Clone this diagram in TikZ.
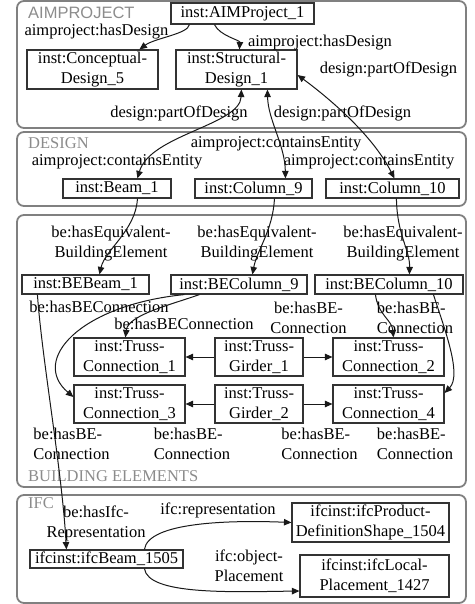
\documentclass[tikz,border=0pt]{standalone}
\usepackage{fontspec}
\setmainfont{Liberation Serif}
\newfontfamily\titlesans{Liberation Sans}
\usetikzlibrary{arrows.meta}
\begin{document}
\begin{tikzpicture}[x=1pt,y=-1pt,
  every node/.style={font=\fontsize{16.5}{20}\selectfont, inner sep=0pt},
  box/.style={draw=black!80, line width=1.15pt, align=center},
  lbl/.style={align=center},
  lbll/.style={align=left},
  panel/.style={draw=black!50, line width=1.8pt, rounded corners=7pt},
  ptitle/.style={text=black!45, anchor=base west},
  tip/.tip={Triangle[length=7.5pt,width=6.5pt]},
  arr/.style={draw=black!90, line width=1pt, -tip},
  darr/.style={draw=black!90, line width=1pt, tip-tip}
]
\useasboundingbox (0,0) rectangle (474,604);

% panels
\draw[panel] (17,1) rectangle (466,128);
\draw[panel] (17,132) rectangle (466,206);
\draw[panel] (17,215) rectangle (466,487);
\draw[panel] (17,495) rectangle (466,603);

\node[ptitle, font=\titlesans\fontsize{16.5}{20}\selectfont] (tA) at (28,18.3) {AIMPROJECT};
\node[ptitle] (tD) at (28,149) {DESIGN};
\node[ptitle] (tB) at (28,481.5) {BUILDING ELEMENTS};
\node[ptitle] (tI) at (28,508) {IFC};

% AIMPROJECT nodes
\node[box, minimum width=143pt, minimum height=21pt] (aim) at (242.5,13.5) {inst:AIMProject\_1};
\node[box, minimum width=131pt, minimum height=39pt] (concept) at (92.5,69.5) {inst:Conceptual-\\Design\_5};
\node[box, minimum width=121pt, minimum height=39pt] (struct) at (236.5,69.5) {inst:Structural-\\Design\_1};

% DESIGN nodes
\node[box, minimum width=108pt, minimum height=19pt] (beam) at (117,188.5) {inst:Beam\_1};
\node[box, minimum width=117pt, minimum height=19pt] (col9) at (253.5,188.5) {inst:Column\_9};
\node[box, minimum width=133pt, minimum height=19pt] (col10) at (392.5,188.5) {inst:Column\_10};

% BUILDING ELEMENTS nodes
\node[box, minimum width=127pt, minimum height=19pt] (bebeam) at (85.5,284.5) {inst:BEBeam\_1};
\node[box, minimum width=136pt, minimum height=19pt] (becol9) at (239,284.5) {inst:BEColumn\_9};
\node[box, minimum width=148pt, minimum height=19pt] (becol10) at (389,284.5) {inst:BEColumn\_10};
\node[box, minimum width=111pt, minimum height=38pt] (tc1) at (129.5,357) {inst:Truss-\\Connection\_1};
\node[box, minimum width=88pt, minimum height=38pt] (tg1) at (259,357) {inst:Truss-\\Girder\_1};
\node[box, minimum width=111pt, minimum height=38pt] (tc2) at (388.5,357) {inst:Truss-\\Connection\_2};
\node[box, minimum width=111pt, minimum height=38pt] (tc3) at (129.5,404) {inst:Truss-\\Connection\_3};
\node[box, minimum width=88pt, minimum height=38pt] (tg2) at (259,404) {inst:Truss-\\Girder\_2};
\node[box, minimum width=111pt, minimum height=38pt] (tc4) at (388.5,404) {inst:Truss-\\Connection\_4};

% IFC nodes
\node[box, minimum width=153pt, minimum height=18pt] (ifcbeam) at (106.5,559) {ifcinst:ifcBeam\_1505};
\node[box, minimum width=157pt, minimum height=39pt] (pds) at (370.5,522.5) {ifcinst:ifcProduct-\\DefinitionShape\_1504};
\node[box, minimum width=149pt, minimum height=42pt] (lp) at (374.5,576) {ifcinst:ifcLocal-\\Placement\_1427};

% labels
\node[lbl] (l1) at (96.5,32) {aimproject:hasDesign};
\node[lbl] (l2) at (320,42.5) {aimproject:hasDesign};
\node[lbl] (l3) at (388.5,69) {design:partOfDesign};
\node[lbl] (l4) at (179,113.5) {design:partOfDesign};
\node[lbl] (l5) at (342.5,113.5) {design:partOfDesign};
\node[lbl] (l6) at (276,144) {aimproject:containsEntity};
\node[lbl] (l7) at (117,161.7) {aimproject:containsEntity};
\node[lbl] (l8) at (369,161.7) {aimproject:containsEntity};
\node[lbl] (l9) at (111,243.3) {be:hasEquivalent-\\BuildingElement};
\node[lbl] (l10) at (257,243.3) {be:hasEquivalent-\\BuildingElement};
\node[lbl] (l11) at (403,243.3) {be:hasEquivalent-\\BuildingElement};
\node[lbl] (l12) at (99,306.7) {be:hasBEConnection};
\node[lbl] (l13) at (184,324) {be:hasBEConnection};
\node[lbl] (l14) at (308.5,317.5) {be:hasBE-\\Connection};
\node[lbll] (l15) at (415,317.5) {be:hasBE-\\Connection};
\node[lbll] (l16) at (71.5,444) {be:hasBE-\\Connection};
\node[lbll] (l17) at (192,444) {be:hasBE-\\Connection};
\node[lbll] (l18) at (319.5,444) {be:hasBE-\\Connection};
\node[lbll] (l19) at (415,444) {be:hasBE-\\Connection};
\node[lbl] (l20) at (96,523.3) {be:hasIfc-\\Representation};
\node[lbl] (l21) at (218,510) {ifc:representation};
\node[lbl] (l22) at (249,566) {ifc:object-\\Placement};

% connectors
\draw[arr] ([xshift=19pt]aim.south west) .. controls (188,34) and (155,38) .. ([xshift=113pt]concept.north west);
\draw[arr] ([xshift=44pt]aim.south west) .. controls (220,36) and (240,40) .. ([xshift=64pt]struct.north west);
\draw[darr] ([xshift=66pt]struct.south west) .. controls (240,125) and (150,135) .. ([xshift=75pt]beam.north west);
\draw[darr] ([xshift=92pt]struct.south west) .. controls (268,120) and (285,145) .. ([xshift=91pt]col9.north west);
\draw[darr] ([yshift=-5.5pt]struct.east) .. controls (318,90) and (370,130) .. ([xshift=69pt]col10.north west);

\draw[arr] ([xshift=75pt]beam.south west) .. controls (136,230) and (105,250) .. ([xshift=78pt]bebeam.north west);
\draw[arr] ([xshift=80pt]col9.south west) .. controls (273,230) and (257,250) .. ([xshift=82pt]becol9.north west);
\draw[arr] ([xshift=71pt]col10.south west) .. controls (397,235) and (410,250) .. ([xshift=95pt]becol10.north west);

\draw[arr] ([xshift=29pt]becol9.south west) .. controls (170,305) and (128,315) .. ([xshift=52pt]tc1.north west);
\draw[arr] ([xshift=14pt]becol9.south west) .. controls (80,305) and (30,360) .. ([yshift=7pt]tc3.west);
\draw[arr] ([xshift=61pt]becol10.south west) .. controls (378,315) and (392,320) .. ([xshift=61pt]tc2.north west);
\draw[arr] ([xshift=119pt]becol10.south west) .. controls (445,330) and (462,375) .. ([yshift=11pt]tc4.east);

\draw[arr] (tg1.west) -- (tc1.east);
\draw[arr] (tg1.east) -- (tc2.west);
\draw[arr] (tg2.west) -- (tc3.east);
\draw[arr] (tg2.east) -- (tc4.west);

\draw[arr] ([xshift=16pt]bebeam.south west) .. controls (42,360) and (62,470) .. ([xshift=37pt]ifcbeam.north west);
\draw[arr] ([xshift=115pt]ifcbeam.north west) .. controls (148,522) and (230,520) .. (pds.west);
\draw[arr] ([xshift=115pt]ifcbeam.south west) .. controls (148,595) and (230,592) .. ([yshift=-15pt]lp.west);
\end{tikzpicture}
\end{document}
